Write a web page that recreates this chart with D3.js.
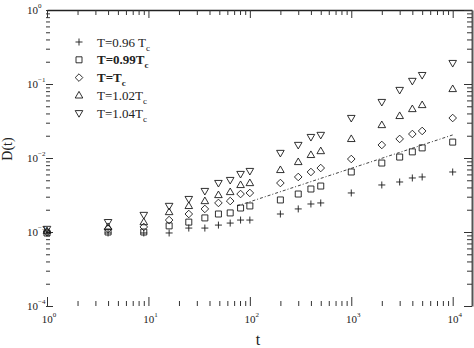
<!DOCTYPE html>
<html>
<head>
<meta charset="utf-8">
<script src="https://cdn.jsdelivr.net/npm/d3@7"></script>
<style>
  html, body { margin: 0; padding: 0; background: #fff; }
  svg { display: block; font-family: "Liberation Serif", "DejaVu Serif", serif; }
</style>
</head>
<body>
<div id="chart"></div>
<script>
// time steps (x values)
const tValues = [1, 4, 9, 16, 25, 36, 49, 64, 81, 100, 200, 300, 400, 500, 1000, 2000, 3000, 4000, 5000, 10000];

// D(t) for each temperature
const dT096 = [0.00100, 0.00097, 0.00097, 0.00097, 0.00113, 0.00113, 0.00124, 0.00132, 0.00145, 0.00145, 0.00175, 0.00205, 0.00239, 0.00247, 0.00337, 0.00432, 0.00474, 0.00537, 0.00554, 0.00647];
const dT099 = [0.00097, 0.00100, 0.00100, 0.00121, 0.00136, 0.00155, 0.00175, 0.00181, 0.00211, 0.00225, 0.00271, 0.00326, 0.00381, 0.00418, 0.00647, 0.00855, 0.0103, 0.0121, 0.0137, 0.0164];
const dT100 = [0.00100, 0.00110, 0.00117, 0.00145, 0.00175, 0.00205, 0.00247, 0.00262, 0.00326, 0.00337, 0.00459, 0.00554, 0.00647, 0.00732, 0.00969, 0.0150, 0.0181, 0.0211, 0.0232, 0.0347];
const dT102 = [0.00103, 0.00117, 0.00136, 0.00186, 0.00225, 0.00262, 0.00316, 0.00347, 0.00432, 0.00459, 0.00689, 0.00883, 0.0110, 0.0124, 0.0181, 0.0279, 0.0370, 0.0459, 0.0520, 0.0856];
const dT104 = [0.00110, 0.00136, 0.00170, 0.00225, 0.00279, 0.00358, 0.00459, 0.00504, 0.00608, 0.00667, 0.0117, 0.0150, 0.0192, 0.0205, 0.0347, 0.0571, 0.0830, 0.110, 0.132, 0.192];

// dash-dot fit line end points
const fitT = [75, 10000];
const fitD = [0.00225, 0.0205];

// legend labels (subscript "c" added when drawing)
const legendLabels = ["T=0.96 T", "T=0.99T", "T=T", "T=1.02T", "T=1.04T"];
const legendBold = [false, true, true, false, false];
const markerKinds = ["plus", "square", "diamond", "triUp", "triDown"];
const seriesData = [dT096, dT099, dT100, dT102, dT104];

// tick values
const xMajor = [1, 10, 100, 1000, 10000];
const xExp = ["0", "1", "2", "3", "4"];
const yMajor = [1, 0.1, 0.01, 0.001, 0.0001];
const yExp = ["0", "\u22121", "\u22122", "\u22123", "\u22124"];

const W = 474, H = 348;
const pLeft = 47, pRight = 472, pTop = 10, pBottom = 306;

const svg = d3.select("#chart").append("svg")
  .attr("width", W)
  .attr("height", H);

const x = d3.scaleLog().domain([1, 1.55e4]).range([pLeft, pRight]);
const y = d3.scaleLog().domain([1e-4, 1]).range([pBottom, pTop]);

// minor ticks for log axes
function minors(lo, hi) {
  const out = [];
  for (let e = Math.floor(Math.log10(lo)); e <= Math.ceil(Math.log10(hi)); e++) {
    for (let k = 2; k <= 9; k++) {
      const v = k * Math.pow(10, e);
      if (v > lo && v < hi) out.push(v);
    }
  }
  return out;
}
const xMinor = minors(1, 1.55e4);
const yMinor = minors(1e-4, 1);

const tickColor = "#333";

function styleTicks(g) {
  g.selectAll(".tick line").attr("stroke", tickColor).attr("stroke-width", 1);
  g.selectAll(".tick text").remove();
}

// bottom (no axis line, ticks pointing up)
svg.append("g").attr("transform", `translate(0,${pBottom})`)
  .call(d3.axisBottom(x).tickValues(xMajor).tickSize(-9).tickSizeOuter(0))
  .call(g => g.select(".domain").remove())
  .call(styleTicks);
svg.append("g").attr("transform", `translate(0,${pBottom})`)
  .call(d3.axisBottom(x).tickValues(xMinor).tickSize(-5).tickSizeOuter(0))
  .call(g => g.select(".domain").remove())
  .call(styleTicks);

// left (no axis line, ticks pointing right)
svg.append("g").attr("transform", `translate(${pLeft - 1},0)`)
  .call(d3.axisLeft(y).tickValues(yMajor).tickSize(-7).tickSizeOuter(0))
  .call(g => g.select(".domain").remove())
  .call(styleTicks);
svg.append("g").attr("transform", `translate(${pLeft - 1},0)`)
  .call(d3.axisLeft(y).tickValues(yMinor).tickSize(-4).tickSizeOuter(0))
  .call(g => g.select(".domain").remove())
  .call(styleTicks);

// top with line
svg.append("g").attr("transform", `translate(0,${pTop})`)
  .call(d3.axisTop(x).tickValues(xMajor).tickSize(-8).tickSizeOuter(0))
  .call(g => g.select(".domain").attr("stroke", "#222").attr("stroke-width", 1.4))
  .call(styleTicks);
svg.append("g").attr("transform", `translate(0,${pTop})`)
  .call(d3.axisTop(x).tickValues(xMinor).tickSize(-5).tickSizeOuter(0))
  .call(g => g.select(".domain").remove())
  .call(styleTicks);

// right with line
svg.append("g").attr("transform", `translate(${pRight},0)`)
  .call(d3.axisRight(y).tickValues(yMajor).tickSize(-8).tickSizeOuter(0))
  .call(g => g.select(".domain").attr("stroke", "#555").attr("stroke-width", 2))
  .call(styleTicks);
svg.append("g").attr("transform", `translate(${pRight},0)`)
  .call(d3.axisRight(y).tickValues(yMinor).tickSize(-5).tickSizeOuter(0))
  .call(g => g.select(".domain").remove())
  .call(styleTicks);

// tick labels with superscripts
const xLab = svg.append("g").selectAll("text")
  .data(xMajor)
  .enter()
  .append("text")
  .attr("x", d => x(d) + 2)
  .attr("y", 323)
  .attr("text-anchor", "middle")
  .style("font-size", "11px")
  .style("fill", "#222");
xLab.append("tspan").text("10");
xLab.append("tspan").attr("dy", -6).style("font-size", "7px").text((d, i) => xExp[i]);

const yLab = svg.append("g").selectAll("text")
  .data(yMajor)
  .enter()
  .append("text")
  .attr("x", 27)
  .attr("y", d => y(d) + 4)
  .style("font-size", "11px")
  .style("fill", "#222");
yLab.append("tspan").text("10");
yLab.append("tspan").attr("dy", -6).style("font-size", "7px").text((d, i) => yExp[i]);

// axis titles
svg.append("text")
  .attr("x", 258)
  .attr("y", 345)
  .attr("text-anchor", "middle")
  .style("font-size", "16px")
  .style("fill", "#222")
  .text("t");

svg.append("text")
  .attr("transform", "translate(12,149) rotate(-90)")
  .attr("text-anchor", "middle")
  .style("font-size", "14px")
  .style("fill", "#222")
  .text("D(t)");

// marker shapes
const markerPath = {
  plus: "M-3.5,0H3.5M0,-3.5V3.5",
  square: "M-3,-3H3V3H-3Z",
  diamond: "M0,-3.8L3.8,0L0,3.8L-3.8,0Z",
  triUp: "M0,-4L3.8,2.6H-3.8Z",
  triDown: "M0,4L3.8,-2.6H-3.8Z"
};

// fit line
svg.append("path")
  .datum(fitT.map((t, i) => [t, fitD[i]]))
  .attr("fill", "none")
  .attr("stroke", "#444")
  .attr("stroke-width", 1)
  .attr("stroke-dasharray", "3,2,1,2")
  .attr("d", d3.line().x(d => x(d[0])).y(d => y(d[1])));

// data points
seriesData.forEach((vals, si) => {
  svg.append("g")
    .selectAll("path")
    .data(vals.map((v, i) => [tValues[i], v]))
    .enter()
    .append("path")
    .attr("transform", d => `translate(${x(d[0])},${y(d[1])})`)
    .attr("d", markerPath[markerKinds[si]])
    .attr("fill", "none")
    .attr("stroke", "#1a1a1a")
    .attr("stroke-width", 0.9);
});

// legend
const legend = svg.append("g");
legendLabels.forEach((lab, i) => {
  const ly = 42 + i * 17.8;
  legend.append("path")
    .attr("transform", `translate(79,${ly})`)
    .attr("d", markerPath[markerKinds[i]])
    .attr("fill", "none")
    .attr("stroke", "#1a1a1a")
    .attr("stroke-width", 0.9);
  const txt = legend.append("text")
    .attr("x", 97)
    .attr("y", ly + 4.5)
    .style("font-size", "13px")
    .style("font-weight", legendBold[i] ? "bold" : "normal")
    .style("fill", "#222");
  txt.append("tspan").text(lab);
  txt.append("tspan").attr("dy", 4).style("font-size", "9px").text("c");
});
</script>
</body>
</html>
